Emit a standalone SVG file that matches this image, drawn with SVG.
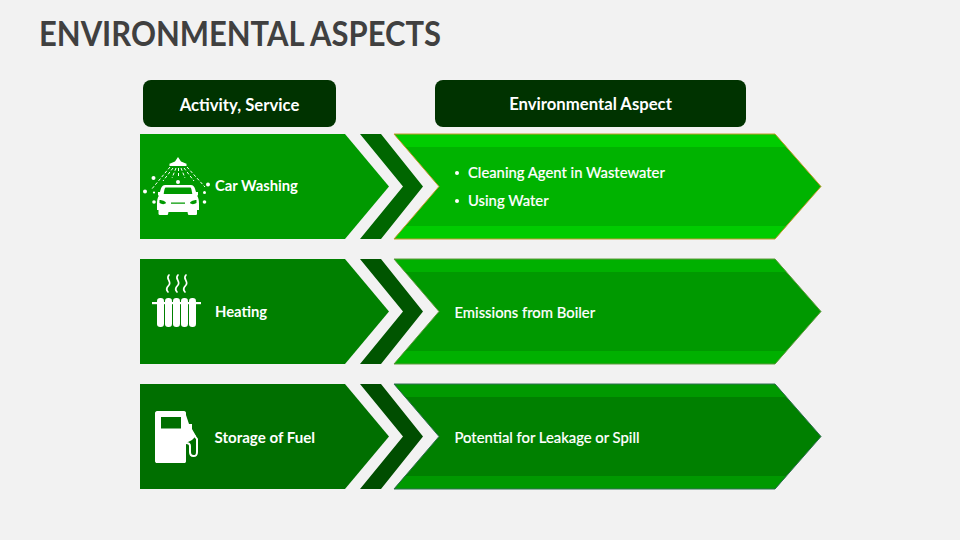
<svg xmlns="http://www.w3.org/2000/svg" width="960" height="540" viewBox="0 0 960 540">
<defs>
<style>
text{font-family:"Lato","Liberation Sans",sans-serif;fill:#fff}
.t{font-weight:700;font-size:14.800px}
.b{font-weight:500;font-size:14.800px;stroke:#fff;stroke-width:.15px}
.h{font-weight:700;font-size:16.700px;text-anchor:middle}
</style>
<clipPath id="arrowClip"><path d="M394 0H775L821 52.500L775 105H394L439 52.500Z"/></clipPath>
<path id="lead" d="M140 0H345L389 52.500L345 105H140Z"/>
<path id="chev" d="M360 0H381L423 52.500L381 105H360L403 52.500Z"/>
<path id="arrow" d="M394 0H775L821 52.500L775 105H394L439 52.500Z"/>
</defs>
<rect width="960" height="540" fill="#f2f2f2"/>
<text x="39" y="46" textLength="402" lengthAdjust="spacingAndGlyphs" style="font-weight:700;font-size:33.500px;fill:#404040;font-family:'Lato','Liberation Sans',sans-serif">ENVIRONMENTAL ASPECTS</text>
<g id="header-activity"><rect x="143" y="80" width="193" height="47" rx="8" fill="#003300"/><text class="h" x="239.500" y="110.500">Activity, Service</text></g>
<g id="header-aspect"><rect x="435" y="80" width="311" height="47" rx="8" fill="#003300"/><text class="h" x="590.500" y="109.500">Environmental Aspect</text></g>
<g id="connectors">
<use href="#chev" y="134" fill="#006600"/>
<use href="#chev" y="259" fill="#005500"/>
<use href="#chev" y="384" fill="#004d00"/>
</g>
<g id="row1-activity">
<use href="#lead" y="134" fill="#009900"/>
<g fill="#fff">
<path d="M178 157L181 161.500L187 164H169L175 161.500Z"/><rect x="169.500" y="164" width="17" height="2"/>
<path d="M170 167L151 190M173 168L163 181M176 168L172 178M178.500 168V176M181 168L185 178M184 168L194 181M187 167L205 187" stroke="#fff" stroke-width="1" stroke-dasharray="3 2" fill="none"/>
<circle cx="153.500" cy="178" r="2"/><circle cx="145" cy="191.500" r="2"/><circle cx="154" cy="202" r="1.800"/><circle cx="154" cy="192.500" r="1.100"/><circle cx="178" cy="182" r="2"/><circle cx="208" cy="184.500" r="2"/><circle cx="204.500" cy="192.500" r="1.500"/><circle cx="204.500" cy="202" r="1.800"/>
<path fill-rule="evenodd" d="M165 185H191C194 185 195 188 196 192H198V195.500H197C198.500 198 199 200 199 204V210H197V214C197 215 196 215 194 215H189C187.500 215 188 213 187.500 212H168.500C168 213 168.500 215 167 215H162C160 215 158.500 215 158.500 214V210H157V204C157 200 157.500 198 159 195.500H158V192H160C161 188 162 185 165 185ZM166 187.500C165 187.500 164.500 188.500 163.700 194H192.300C191.500 188.500 191 187.500 190 187.500ZM159.500 200V203C161.500 204.500 165 204.500 166 203C165.500 201 162 200 159.500 200ZM196.500 200C194 200 190.500 201 190 203C191 204.500 194.500 204.500 196.500 203ZM171 202.500V203.800H185V202.500Z"/>
</g>
<text class="t" x="215" y="190.500">Car Washing</text>
</g>
<g id="row1-aspect">
<use href="#arrow" y="134" fill="#00b300"/>
<g transform="translate(0 134)" clip-path="url(#arrowClip)"><rect x="390" y="0" width="435" height="13" fill="#00cc00"/><rect x="390" y="92" width="435" height="13" fill="#00cc00"/></g>
<use href="#arrow" y="134" fill="none" stroke="#c49a2a" stroke-width="1"/>
<circle cx="457" cy="173" r="2" fill="#fff"/><circle cx="457" cy="201" r="2" fill="#fff"/>
<text class="b" x="468" y="178">Cleaning Agent in Wastewater</text>
<text class="b" x="468" y="206">Using Water</text>
</g>
<g id="row2-activity">
<use href="#lead" y="259" fill="#008000"/>
<g fill="#fff">
<rect x="152" y="302" width="49" height="2.200"/>
<rect x="157" y="298" width="7" height="29" rx="3.200"/><rect x="165" y="298" width="7" height="29" rx="3.200"/><rect x="173" y="298" width="7" height="29" rx="3.200"/><rect x="181" y="298" width="7" height="29" rx="3.200"/><rect x="189" y="298" width="7" height="29" rx="3.200"/>
<g fill="none" stroke="#fff" stroke-width="1.700" stroke-linecap="round"><path d="M169 275C165 279 172 281 169 285C166 288 166 290 168 292"/><path d="M178 275C174 279 181 281 178 285C175 288 175 290 177 292"/><path d="M186 275C182 279 189 281 186 285C183 288 183 290 185 292"/></g>
</g>
<text class="t" x="215" y="316.500">Heating</text>
</g>
<g id="row2-aspect">
<use href="#arrow" y="259" fill="#009900"/>
<g transform="translate(0 259)" clip-path="url(#arrowClip)"><rect x="390" y="0" width="435" height="13" fill="#00b000"/><rect x="390" y="92" width="435" height="13" fill="#00b000"/></g>
<use href="#arrow" y="259" fill="none" stroke="#5f9a3c" stroke-width="1"/>
<text class="b" x="454.500" y="317.500">Emissions from Boiler</text>
</g>
<g id="row3-activity">
<use href="#lead" y="384" fill="#006f00"/>
<path fill="#fff" fill-rule="evenodd" d="M157 411H184C185.500 411 186 412 186 413V461C186 462.500 185.500 463 184 463H157C156 463 155 462.500 155 461V413C155 412 156 411 157 411ZM161 417V428.500H181V417Z"/>
<path fill="#fff" d="M186 415L189 424H192V429L196 436L192 440L186 443Z"/>
<path fill="none" stroke="#fff" stroke-width="2" stroke-linejoin="round" d="M191 431L197 439V452C197 456 195 456 193.500 456C191 456 190 455 190 452V446C190 444 188 443 186 443"/>
<text class="t" x="214.500" y="442.500" style="font-size:15.100px">Storage of Fuel</text>
</g>
<g id="row3-aspect">
<use href="#arrow" y="384" fill="#008000"/>
<g transform="translate(0 384)" clip-path="url(#arrowClip)"><rect x="390" y="0" width="435" height="13" fill="#009900"/><rect x="390" y="92" width="435" height="13" fill="#009900"/></g>
<use href="#arrow" y="384" fill="none" stroke="#2f6f50" stroke-width="1"/>
<text class="b" x="454.500" y="442.500">Potential for Leakage or Spill</text>
</g>
</svg>
